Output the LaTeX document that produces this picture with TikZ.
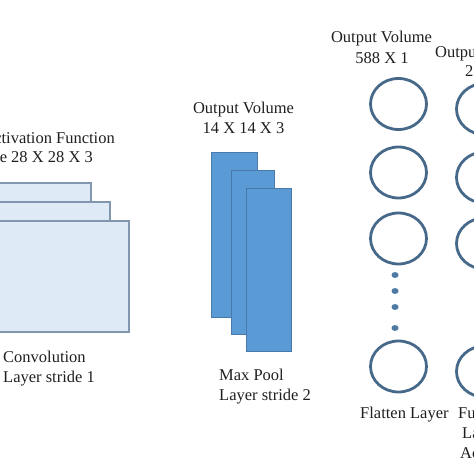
\documentclass[tikz,border=0pt]{standalone}
\usepackage{fontspec}
\setmainfont{Liberation Serif}
\usepackage{tikz}
\usetikzlibrary{calc, positioning}
\definecolor{convFill}{HTML}{DEEBF7}
\definecolor{convLine}{HTML}{8396B0}
\definecolor{poolFill}{HTML}{5B9BD5}
\definecolor{poolLine}{HTML}{4A7AAB}
\definecolor{neuronLine}{HTML}{46698A}
\definecolor{dotBlue}{HTML}{4F7BA3}
\definecolor{textGray}{gray}{0.12}

\begin{document}
\begin{tikzpicture}[x=1pt, y=-1pt, >=stealth,
    lbl/.style={inner sep=0pt, text=textGray, font=\fontsize{16.5}{20}\selectfont},
    convbox/.style={draw=convLine, fill=convFill, line width=1.3pt},
    poolbox/.style={draw=poolLine, fill=poolFill, line width=1pt},
    neuron/.style={draw=neuronLine, line width=2.8pt}]
    \useasboundingbox (0,0) rectangle (474,474);
    \clip (0,0) rectangle (474,474);

    % Convolution volume (three stacked maps)
    \draw[convbox] (-60,183) rectangle (91,240);
    \draw[convbox] (-60,202) rectangle (110,300);
    \draw[convbox] (-60,221) rectangle (129,332);
    \node[lbl, anchor=base east] (convTopA) at (115,143) {ReLU Activation Function};
    \node[lbl, anchor=base east] (convTopB) at (93,162) {Volume 28 X 28 X 3};
    \node[lbl, anchor=base west] (convLblA) at (3,362) {Convolution};
    \node[lbl, anchor=base west] (convLblB) at (3,382) {Layer stride 1};

    % Max pool volume
    \draw[poolbox] (211,152) rectangle (257,317);
    \draw[poolbox] (231,170) rectangle (274,334);
    \draw[poolbox] (246,188) rectangle (291,351);
    \node[lbl, anchor=base] (poolTopA) at (243.5,113) {Output Volume};
    \node[lbl, anchor=base] (poolTopB) at (243.5,133) {14 X 14 X 3};
    \node[lbl, anchor=base west] (poolLblA) at (219,380) {Max Pool};
    \node[lbl, anchor=base west] (poolLblB) at (219,400) {Layer stride 2};

    % Flatten layer
    \draw[neuron] (398.5,104) ellipse (28 and 25.5);
    \draw[neuron] (398.5,172.5) ellipse (28 and 25.5);
    \draw[neuron] (398.5,238.5) ellipse (28 and 25.5);
    \draw[neuron] (398.5,366.5) ellipse (28 and 25.5);
    \fill[dotBlue] (395,275) ellipse (3.5 and 3);
    \fill[dotBlue] (395,291) ellipse (3.5 and 3);
    \fill[dotBlue] (395,307) ellipse (3.5 and 3);
    \fill[dotBlue] (395,328) ellipse (3.5 and 3);
    \node[lbl, anchor=base] (flatTopA) at (381.5,42) {Output Volume};
    \node[lbl, anchor=base] (flatTopB) at (382,63) {588 X 1};
    \node[lbl, anchor=base west] (flatLbl) at (360,418) {Flatten Layer};

    % Fully connected layer (cut at the edge)
    \draw[neuron] (484.5,109) ellipse (28 and 25.5);
    \draw[neuron] (484.5,177.5) ellipse (28 and 25.5);
    \draw[neuron] (484.5,243.5) ellipse (28 and 25.5);
    \draw[neuron] (484.5,371.5) ellipse (28 and 25.5);
    \node[lbl, anchor=base west] (fcTopA) at (435,57) {Output Volume};
    \node[lbl, anchor=base west] (fcTopB) at (465,76) {256 X 1};
    \node[lbl, anchor=base west] (fcLblA) at (458,418) {Fully Connected};
    \node[lbl, anchor=base west] (fcLblB) at (462,438) {Layer with};
    \node[lbl, anchor=base west] (fcLblC) at (460,458) {Activation};
\end{tikzpicture}
\end{document}
